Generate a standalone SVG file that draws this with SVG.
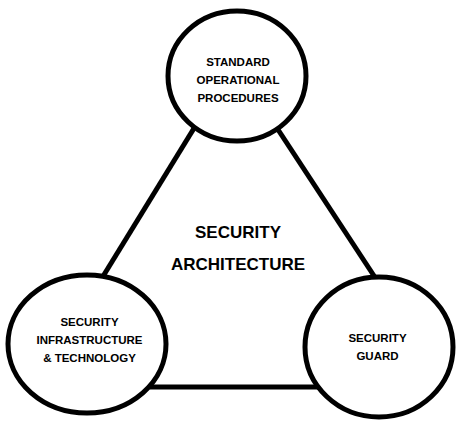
<svg xmlns="http://www.w3.org/2000/svg" width="474" height="425" viewBox="0 0 474 425">
<style>
.node ellipse{fill:#fff;stroke:#000;stroke-width:5}
.conn line{stroke:#000;stroke-width:5}
text{font-family:"Liberation Sans",Arial,sans-serif;font-weight:bold;fill:#000;text-anchor:middle}
.s{font-size:11.5px}
.c{font-size:17px}
</style>
<rect width="474" height="425" fill="#fff"/>
<g id="connectors" class="conn">
<line x1="196" y1="125" x2="97.7" y2="285"/>
<line x1="275" y1="125" x2="380" y2="285"/>
<line x1="150" y1="387" x2="320" y2="387"/>
</g>
<g id="center-label">
<text class="c" x="238" y="238">SECURITY</text>
<text class="c" x="238" y="270">ARCHITECTURE</text>
</g>
<g id="sop" class="node">
<ellipse cx="237" cy="76" rx="69" ry="65"/>
<text class="s" x="238" y="66">STANDARD</text>
<text class="s" x="238" y="84">OPERATIONAL</text>
<text class="s" x="238" y="102">PROCEDURES</text>
</g>
<g id="infra" class="node">
<ellipse cx="87" cy="344" rx="79" ry="69"/>
<text class="s" x="89.5" y="325.5">SECURITY</text>
<text class="s" x="89.5" y="344">INFRASTRUCTURE</text>
<text class="s" x="89.5" y="361.5">&amp; TECHNOLOGY</text>
</g>
<g id="guard" class="node">
<ellipse cx="379" cy="347" rx="74" ry="70"/>
<text class="s" x="377.5" y="342">SECURITY</text>
<text class="s" x="377.5" y="360">GUARD</text>
</g>
</svg>
